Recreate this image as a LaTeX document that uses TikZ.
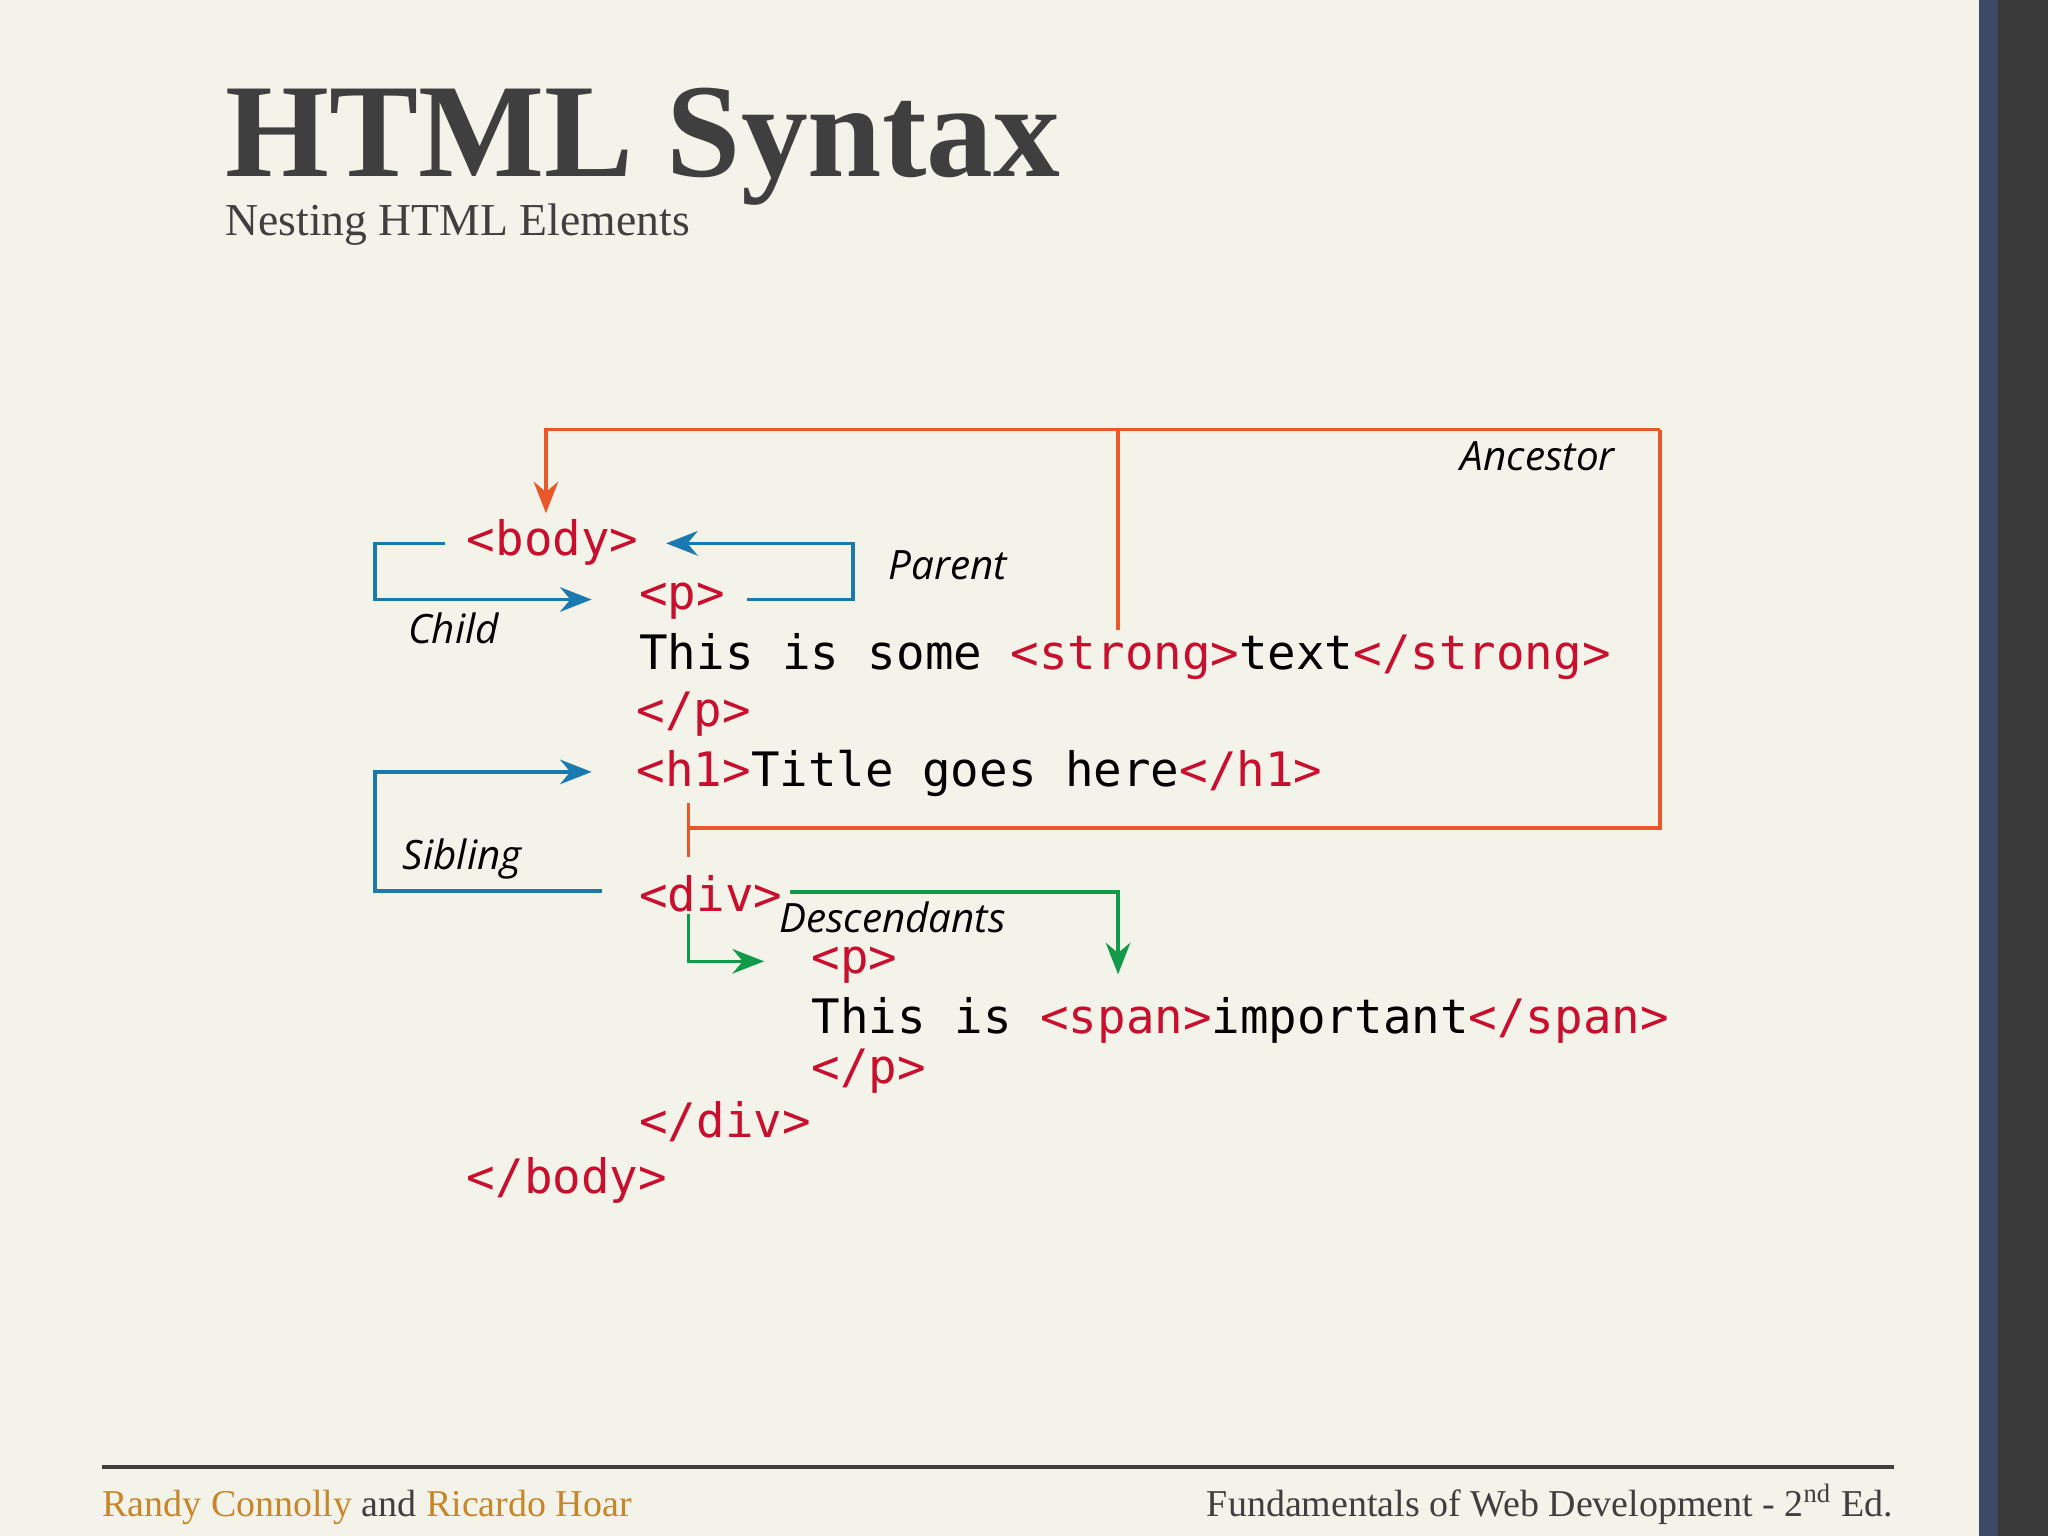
\documentclass[tikz,border=0pt]{standalone}
\usepackage{fontspec}
\setmainfont{Liberation Serif}
\newfontfamily\codefont{DejaVu Sans Mono}
\newfontfamily\labfont{Open Sans}
\usetikzlibrary{arrows.meta}
\definecolor{bg}{HTML}{F4F3EA}
\definecolor{codered}{HTML}{C8102E}
\definecolor{anc}{HTML}{E8582A}
\definecolor{blu}{HTML}{1A7AB0}
\definecolor{grn}{HTML}{109A4A}
\definecolor{ttl}{HTML}{3F3F3F}
\definecolor{auth}{HTML}{C8862A}
\definecolor{barblue}{HTML}{3D4A66}
\definecolor{bardark}{HTML}{3A3A3A}
\newcommand{\rt}[1]{\textcolor{codered}{#1}}
\tikzset{
 code/.style={anchor=west,inner sep=0pt,font=\codefont\fontsize{13.5}{16}\selectfont},
 lab/.style={anchor=west,inner sep=0pt,font=\labfont\itshape\fontsize{11.5}{14}\selectfont},
 ancl/.style={draw=anc,line width=1pt},
 blul/.style={draw=blu,line width=1pt},
 grnl/.style={draw=grn,line width=1pt},
 tip/.style={-{Stealth[length=9pt,width=7pt]}}
}
\begin{document}
\begin{tikzpicture}[x=0.013061cm,y=-0.013061cm]
\fill[bg] (0,0) rectangle (1568,1176);
\useasboundingbox (0,0) rectangle (1568,1176);
\fill[barblue] (1515,0) rectangle (1530,1176);
\fill[bardark] (1530,0) rectangle (1568,1176);
\node[anchor=base west,inner sep=0pt,text=ttl,font=\bfseries\fontsize{38}{42}\selectfont] (title) at (172,135) {HTML Syntax};
\node[anchor=base west,inner sep=0pt,text=ttl,font=\fontsize{13}{15}\selectfont] (sub) at (172,180) {Nesting HTML Elements};
% code
\node[code] (body) at (357,415) {\rt{<body>}};
\node[code] (p1) at (489,460) {\rt{<p>}};
\node[code] (txt) at (489,503) {This is some \rt{<strong>}text\rt{</strong>}};
\node[code] (p1e) at (487,547) {\rt{</p>}};
\node[code] (h1) at (487,592) {\rt{<h1>}Title goes here\rt{</h1>}};
\node[code] (div) at (489,684) {\rt{<div>}};
\node[code] (p2) at (621,739) {\rt{<p>}};
\node[code] (txt2) at (621,781) {This is \rt{<span>}important\rt{</span>}};
\node[code] (p2e) at (621,820) {\rt{</p>}};
\node[code] (dive) at (489,859) {\rt{</div>}};
\node[code] (bodye) at (357,904) {\rt{</body>}};
% labels
\node[lab] (lanc) at (1118,349) {Ancestor};
\node[lab] (lpar) at (680,433) {Parent};
\node[lab] (lchi) at (312,481) {Child};
\node[lab] (lsib) at (308,658) {Sibling};
\node[lab] (ldes) at (596,702) {Descendants};
% coordinates
\coordinate (a1) at (856,482);
\coordinate (a2) at (856,329);
\coordinate (a3) at (418,329);
\coordinate (a4) at (418,393);
\coordinate (a5) at (1271,329);
\coordinate (a6) at (1271,634);
\coordinate (a7) at (527,634);
\coordinate (a8) at (527,615);
\coordinate (a9) at (527,656);
\draw[ancl] (a1) -- (a2);
\draw[ancl,tip] (a5) -- (a3) -- (a4);
\draw[ancl] (a5) -- (a6) -- (a7);
\draw[ancl] (a8) -- (a9);
% parent
\coordinate (b1) at (572,459);
\coordinate (b2) at (653,459);
\coordinate (b3) at (653,416);
\coordinate (b4) at (510,416);
\draw[blul,tip] (b1) -- (b2) -- (b3) -- (b4);
% child
\coordinate (c1) at (341,416);
\coordinate (c2) at (287,416);
\coordinate (c3) at (287,459);
\coordinate (c4) at (453,459);
\draw[blul,tip] (c1) -- (c2) -- (c3) -- (c4);
% sibling
\coordinate (s1) at (461,682);
\coordinate (s2) at (287,682);
\coordinate (s3) at (287,591);
\coordinate (s4) at (453,591);
\draw[blul,tip] (s1) -- (s2) -- (s3) -- (s4);
% descendants
\coordinate (d1) at (605,683);
\coordinate (d2) at (856,683);
\coordinate (d3) at (856,746);
\draw[grnl,tip] (d1) -- (d2) -- (d3);
\coordinate (e1) at (527,700);
\coordinate (e2) at (527,736);
\coordinate (e3) at (585,736);
\draw[grnl,tip] (e1) -- (e2) -- (e3);
% footer
\coordinate (f1) at (78,1123);
\coordinate (f2) at (1450,1123);
\draw[ttl,line width=1pt] (f1) -- (f2);
\node[anchor=base west,inner sep=0pt,text=ttl,font=\fontsize{10.8}{12}\selectfont] (auth) at (78,1161) {\textcolor{auth}{Randy Connolly} and \textcolor{auth}{Ricardo Hoar}};
\node[anchor=base east,inner sep=0pt,text=ttl,font=\fontsize{10.8}{12}\selectfont] (book) at (1450,1161) {Fundamentals of Web Development - 2\textsuperscript{nd} Ed.};
\end{tikzpicture}
\end{document}
